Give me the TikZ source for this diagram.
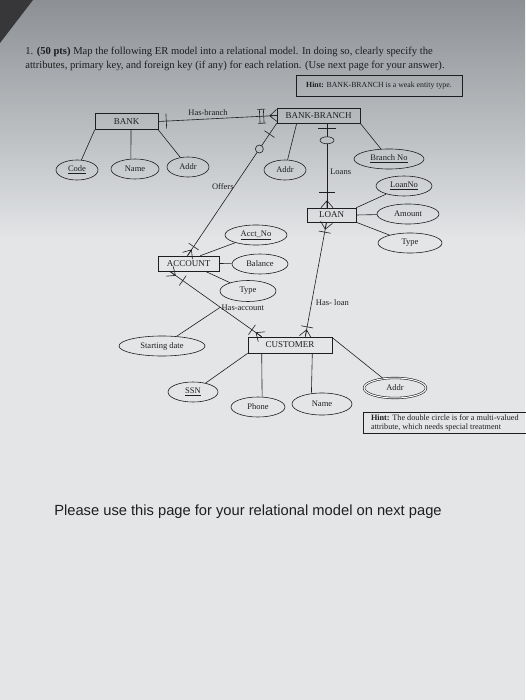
\documentclass[tikz,border=0pt]{standalone}
\usepackage{fontspec}
\setmainfont{Liberation Serif}
\newfontfamily\arialfont{Liberation Sans}
\usetikzlibrary{calc,shapes.geometric}

\definecolor{ink}{RGB}{30,30,32}
\definecolor{bgtop}{RGB}{140,144,148}
\definecolor{bgpage}{RGB}{227,229,231}
\definecolor{bgdark}{RGB}{55,55,58}
\definecolor{ringbg}{RGB}{190,193,196}

% crow's foot at #1 (end point), line coming from #2
\newcommand\crowend[2]{%
  \draw ($(#1)!7pt!(#2)$) -- ($(#1)!6pt!90:(#2)$)
        ($(#1)!7pt!(#2)$) -- (#1)
        ($(#1)!7pt!(#2)$) -- ($(#1)!6pt!-90:(#2)$);}
% tick across the line #1--#2 at distance #3 from #1, half length #4
\newcommand\tickat[4]{%
  \draw ($(#1)!#3!(#2)!#4!90:(#2)$) -- ($(#1)!#3!(#2)!#4!-90:(#2)$);}

\begin{document}
\begin{tikzpicture}[x=1pt,y=-1pt,line width=0.6pt,color=ink,
  entity/.style={draw,rectangle,inner sep=0pt,font=\fontsize{9}{10}\selectfont},
  attr/.style={draw,ellipse,inner sep=0pt,font=\fontsize{8.5}{10}\selectfont},
  multiattr/.style={attr,double,double distance=1pt},
  rel/.style={font=\fontsize{8.5}{10}\selectfont,inner sep=1pt},
  hint/.style={draw,rectangle,inner sep=2pt,align=left}]

% ---------- background (photo of a page) ----------
\useasboundingbox (0,0) rectangle (525,700);
\fill[bgpage] (0,0) rectangle (525,700);
\shade[top color=bgtop,bottom color=bgpage] (0,0) rectangle (525,240);
\fill[bgdark] (0,0) -- (33,0) -- (0,43) -- cycle;

% ---------- heading ----------
\node[anchor=base west,inner sep=0pt,font=\fontsize{10.6}{12}\selectfont] (t1) at (25,55)
  {1. \textbf{(50 pts)} Map the following ER model into a relational model. In doing so, clearly specify the};
\node[anchor=base west,inner sep=0pt,font=\fontsize{10.6}{12}\selectfont] (t2) at (25,68.5)
  {attributes, primary key, and foreign key (if any) for each relation. (Use next page for your answer).};
\node[hint,minimum width=166pt,minimum height=21pt,font=\fontsize{7.8}{9}\selectfont] (h1) at (379,86)
  {\textbf{Hint:} BANK-BRANCH is a weak entity type.};

% ---------- entities ----------
\node[entity,minimum width=63pt,minimum height=16pt] (bank) at (126.5,121.5) {BANK};
\node[entity,minimum width=83pt,minimum height=15pt] (bb) at (318.5,115.5) {BANK-BRANCH};
\node[entity,minimum width=61pt,minimum height=15pt] (acct) at (188.5,263.5) {ACCOUNT};
\node[entity,minimum width=49pt,minimum height=14pt] (loan) at (331.5,215) {LOAN};
\node[entity,minimum width=84pt,minimum height=16pt] (cust) at (290,345) {CUSTOMER};

% ---------- attributes ----------
\node[attr,minimum width=42pt,minimum height=20pt] (code) at (77,170) {\underline{Code}};
\node[attr,minimum width=48pt,minimum height=20pt] (bname) at (135,169) {Name};
\node[attr,minimum width=42pt,minimum height=20pt] (baddr) at (188,167) {Addr};
\node[attr,minimum width=42pt,minimum height=20pt] (bbaddr) at (285,170) {Addr};
\node[attr,minimum width=70pt,minimum height=20pt] (brno) at (389,159) {\underline{Branch No}};
\node[attr,minimum width=56pt,minimum height=20pt] (loanno) at (404,186) {\underline{LoanNo}};
\node[attr,minimum width=62pt,minimum height=20pt] (amount) at (408,214) {Amount};
\node[attr,minimum width=64pt,minimum height=20pt] (ltype) at (410,243) {Type};
\node[attr,minimum width=62pt,minimum height=20pt] (acctno) at (256,235) {\underline{Acct\_No}};
\node[attr,minimum width=56pt,minimum height=20pt] (balance) at (260,264) {Balance};
\node[attr,minimum width=56pt,minimum height=21pt] (atype) at (248,291) {Type};
\node[attr,minimum width=86pt,minimum height=20pt] (sdate) at (162,346) {Starting date};
\node[attr,minimum width=50pt,minimum height=20pt] (ssn) at (193,392) {\underline{SSN}};
\node[attr,minimum width=54pt,minimum height=20pt] (phone) at (258,407) {Phone};
\node[attr,minimum width=60pt,minimum height=22pt] (cname) at (322,404) {Name};
\node[multiattr,minimum width=62pt,minimum height=20pt] (caddr) at (395,388) {Addr};

% ---------- attribute links ----------
\draw (bank.south west) -- (code);
\draw ($(bank.south)+(4.5,0)$) -- (bname.112);
\draw (bank.south east) -- (baddr);
\draw ($(bb.south west)+(20,0)$) -- (bbaddr);
\draw (bb.south east) -- (brno);
\draw (loan.north east) -- (loanno);
\draw (loan.east) -- (amount);
\draw (loan.south east) -- (ltype);
\draw ($(acct.north east)+(-19,0)$) -- (acctno);
\draw (acct.east) -- (balance);
\draw ($(acct.south east)+(-14,0)$) -- (atype);
\draw (cust.south west) -- (ssn);
\draw ($(cust.south west)+(14,0)$) -- (phone.68);
\draw ($(cust.south east)+(-20,0)$) -- (cname.135);
\draw ($(cust.north east)+(0,1)$) -- (caddr);

% ---------- Has-branch ----------
\draw (bank.east) -- (bb.west)
  node[rel,pos=0.42,above=2pt] (lhb) {Has-branch};
\tickat{bank.east}{bb.west}{8pt}{7.5pt}
\crowend{bb.west}{bank.east}
\tickat{bb.west}{bank.east}{13pt}{7pt}
\tickat{bb.west}{bank.east}{17pt}{7pt}
\draw ($(bb.west)!11pt!(bank.east)!7pt!90:(bank.east)$) -- ($(bb.west)!19pt!(bank.east)!7pt!90:(bank.east)$);
\draw ($(bb.west)!11pt!(bank.east)!7pt!-90:(bank.east)$) -- ($(bb.west)!19pt!(bank.east)!7pt!-90:(bank.east)$);

% ---------- Offers ----------
\coordinate (offS) at (bb.south west);
\coordinate (offE) at ($(acct.north)+(-1,0)$);
\draw (offS) -- (offE);
\tickat{offS}{offE}{13pt}{6pt}
\draw[fill=ringbg] ($(offS)!31pt!(offE)$) circle[radius=4pt];
\tickat{offE}{offS}{11pt}{6pt}
\crowend{offE}{offS}
\node[rel,anchor=east] (loff) at ($($(offS)!0.48!(offE)$)+(1,0)$) {Offers};

% ---------- Loans ----------
\coordinate (lnE) at ($(loan.north)+(-4.5,0)$);
\coordinate (lnS) at (bb.south -| lnE);
\draw (lnS) -- (lnE);
\tickat{lnS}{lnE}{5pt}{9pt}
\draw[fill=ringbg] ($(lnS)!17pt!(lnE)$) circle[x radius=7pt,y radius=3.5pt];
\tickat{lnE}{lnS}{15pt}{8pt}
\crowend{lnE}{lnS}
\node[rel,anchor=west] (lln) at ($($(lnS)!0.57!(lnE)$)+(2,0)$) {Loans};

% ---------- Has-account ----------
\coordinate (haS) at ($(acct.south west)+(12,0)$);
\coordinate (haE) at ($(cust.north west)+(14,0)$);
\coordinate (hacc) at ($(haS)!0.55!(haE)$);
\draw (haS) -- (haE);
\crowend{haS}{haE}
\tickat{haS}{haE}{16pt}{6pt}
\tickat{haE}{haS}{12pt}{6pt}
\crowend{haE}{haS}
\node[rel,anchor=west] (lha) at (hacc) {Has-account};
\draw (hacc) -- (sdate);

% ---------- Has-loan ----------
\coordinate (hlS) at ($(loan.south)+(-5,0)$);
\coordinate (hlE) at ($(cust.north east)+(-27,0)$);
\draw (hlS) -- (hlE);
\crowend{hlS}{hlE}
\tickat{hlS}{hlE}{10pt}{6pt}
\tickat{hlE}{hlS}{10pt}{6pt}
\crowend{hlE}{hlS}
\node[rel,anchor=west] (lhl) at ($($(hlS)!0.7!(hlE)$)+(3,0)$) {Has- loan};

% ---------- second hint and footer ----------
\node[hint,anchor=north west,minimum width=163pt,minimum height=21pt,font=\fontsize{8.2}{9.3}\selectfont] (h2) at (363,412)
  {\textbf{Hint:} The double circle is for a multi-valued\\attribute, which needs special treatment};
\node[font=\arialfont\fontsize{14.7}{17}\selectfont,inner sep=0pt] (foot) at (248,512)
  {Please use this page for your relational model on next page};
\end{tikzpicture}
\end{document}
